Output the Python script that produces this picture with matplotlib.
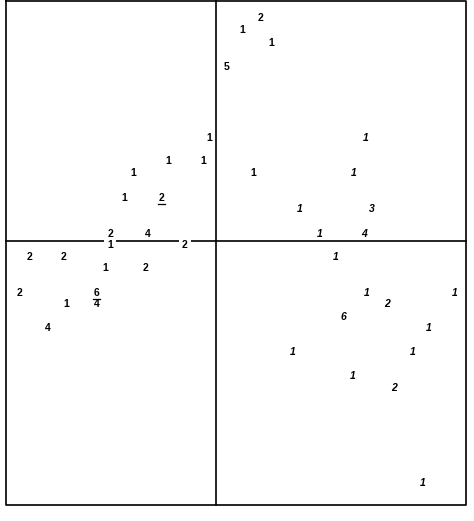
import matplotlib.pyplot as plt

# positions in picture pixels, label text
up_x = [261, 242, 271, 227, 209, 168, 203, 133, 253, 124, 162, 111, 110, 148, 185,
        30, 64, 105, 146, 20, 66, 97, 97, 48]
up_y = [18, 30, 43, 67, 138, 161, 161, 173, 173, 198, 198, 234, 245, 234, 245,
        257, 257, 268, 268, 293, 304, 293, 304, 328]
up_lab = ['2', '1', '1', '5', '1', '1', '1', '1', '1', '1', '2', '2', '1', '4', '2',
          '2', '2', '1', '2', '2', '1', '6', '4', '4']
up_line = [False] * 24
up_line[10] = True
up_line[21] = True

it_x = [366, 354, 300, 372, 320, 364, 336, 367, 387, 455, 343, 429, 293, 413, 353, 394, 423]
it_y = [138, 173, 209, 209, 234, 234, 257, 293, 304, 293, 317, 328, 352, 352, 376, 388, 483]
it_lab = ['1', '1', '1', '3', '1', '4', '1', '1', '2', '1', '6', '1', '1', '1', '1', '2', '1']

fig = plt.figure(figsize=(4.74, 5.21), dpi=100)
ax = fig.add_axes([0, 0, 1, 1])
ax.set_xlim(0, 474)
ax.set_ylim(521, 0)
ax.axis('off')

ax.plot([6, 466, 466, 6, 6], [1, 1, 505, 505, 1], color='black', lw=1.2)
ax.plot([216, 216], [1, 505], color='black', lw=1.2)
ax.plot([6, 466], [241, 241], color='black', lw=1.2)

for x, y, t, u in zip(up_x, up_y, up_lab, up_line):
    bb = dict(facecolor='white', edgecolor='none', pad=2.5) if abs(y - 241) < 6 else None
    ax.text(x, y, t, ha='center', va='center', fontsize=7.5, fontweight='bold',
            family='Liberation Sans', bbox=bb)
    if u:
        ax.plot([x - 3.5, x + 3.5], [y + 6, y + 6], color='black', lw=0.9)

for x, y, t in zip(it_x, it_y, it_lab):
    ax.text(x, y, t, ha='center', va='center', fontsize=7.5, fontweight='bold',
            fontstyle='italic', family='Liberation Sans')

fig.savefig('out.png', dpi=100)
